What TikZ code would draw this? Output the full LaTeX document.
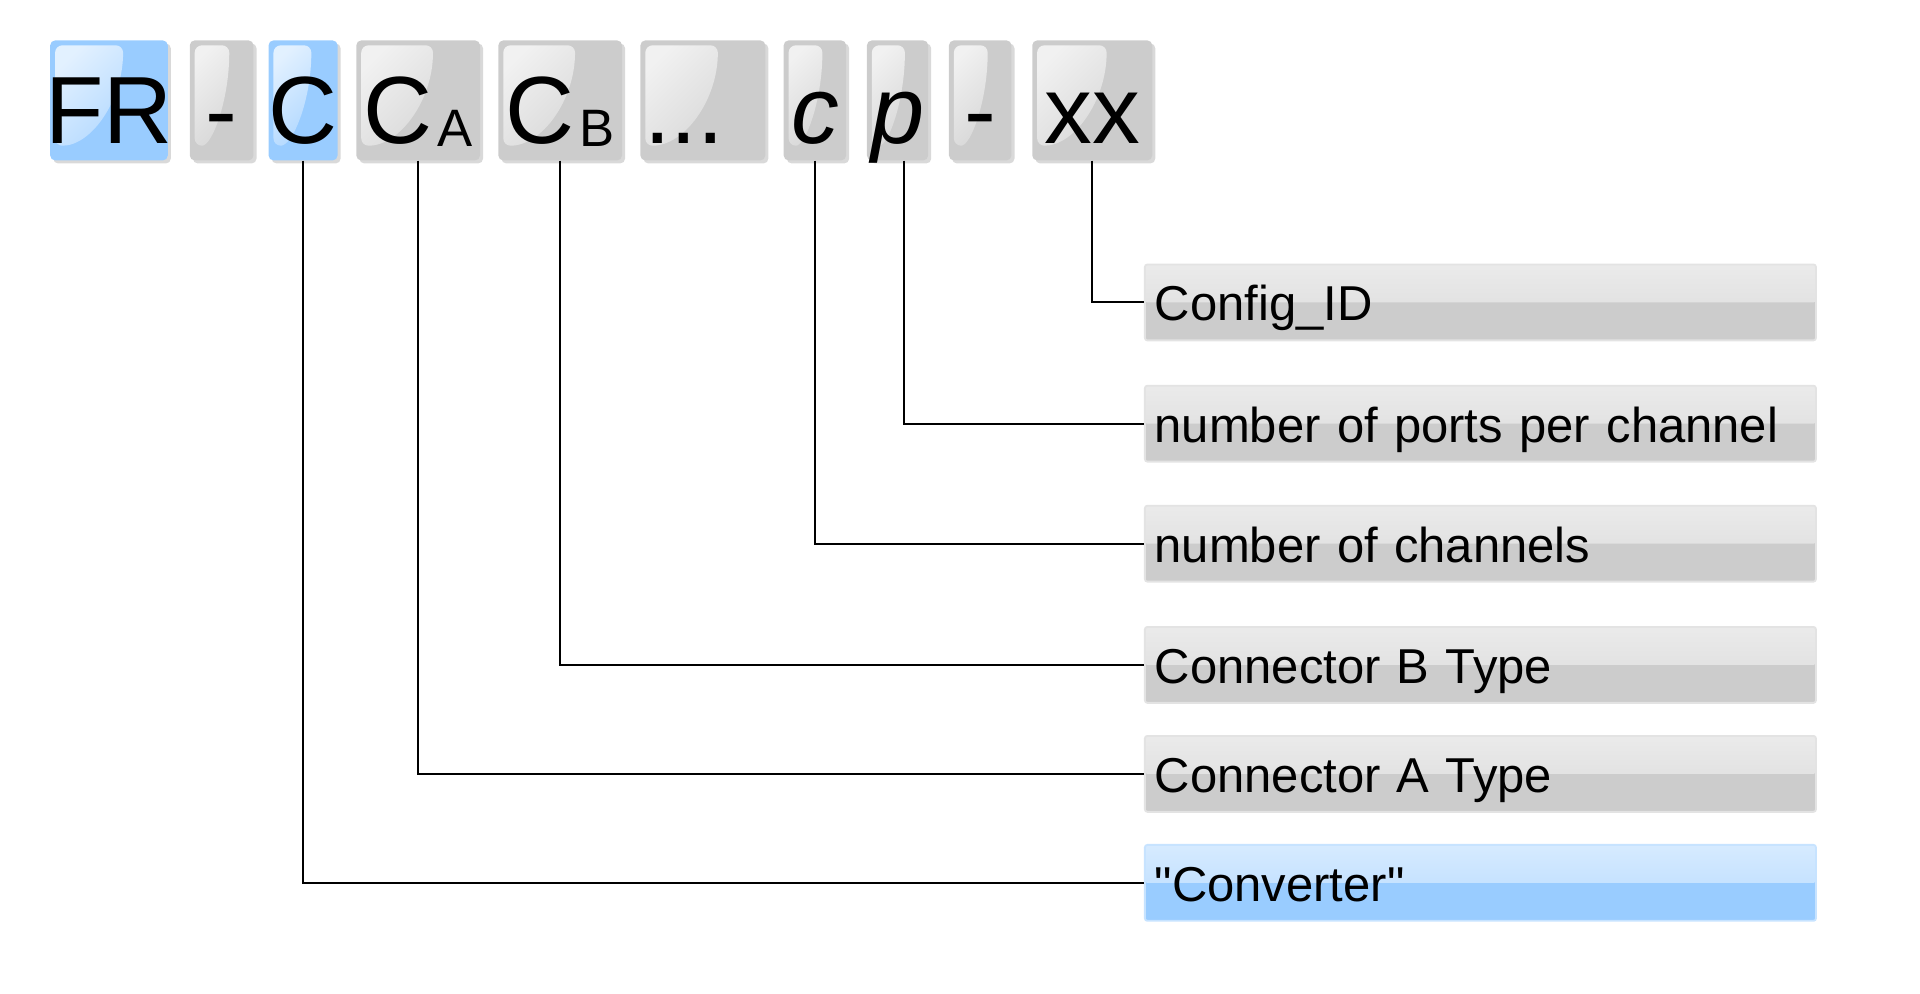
\documentclass[tikz,border=0pt]{standalone}
\usepackage{fontspec}
\setmainfont{Liberation Sans}[Ligatures=TeXOff]
\usetikzlibrary{calc,shadows}
\definecolor{keygray}{HTML}{CCCCCC}
\definecolor{keyblue}{HTML}{99CCFF}
\newcommand{\glyphfont}{\fontsize{78}{90}\selectfont}
\newcommand{\idxfont}{\fontsize{43}{50}\selectfont}
\newcommand{\tagfont}{\fontsize{40}{48}\selectfont}
\begin{document}
\begin{tikzpicture}[x=1pt, y=-1pt,
    key/.style = {rounded corners=4pt, fill=#1, minimum height=98pt, inner sep=0pt,
        text height=70pt, text depth=0pt, font=\glyphfont,
        drop shadow={shadow xshift=2.5pt, shadow yshift=-2.5pt, opacity=0.3},
        path picture={\shade[rounded corners=6pt, top color=white!72!#1, bottom color=white!10!#1, shading angle=45]
            ($(path picture bounding box.north west)+(4,4)$)
            -- ($(path picture bounding box.north west)!0.62!(path picture bounding box.north east)+(0,4)$)
            .. controls ($(path picture bounding box.west)!0.62!(path picture bounding box.east)$)
            and ($(path picture bounding box.south west)!0.35!(path picture bounding box.south east)+(0,-12)$)
            .. ($(path picture bounding box.south west)+(4,-12)$) -- cycle;}},
    tag/.style = {draw=white!45!#1, line width=1.5pt, rounded corners=2pt, fill=#1,
        minimum height=62pt, inner xsep=8pt, inner ysep=0pt, text width=532pt, align=left,
        text height=30pt, text depth=0pt, font=\tagfont,
        path picture={\shade[top color=white!60!#1, bottom color=white!28!#1]
            (path picture bounding box.north west) rectangle (path picture bounding box.east);}},
    wire/.style = {line width=1.6pt}]
    \useasboundingbox (0,0) rectangle (1568,811);

    \node[key=keyblue, minimum width=96pt] (fr) at (89,82) {\makebox[0pt]{FR}};
    \node[key=keygray, minimum width=52pt] (d1) at (181,82) {-};
    \node[key=keyblue, minimum width=51pt] (cv) at (247.5,82) {C};
    \node[key=keygray, minimum width=101pt] (ca) at (341.5,82) {C\kern4pt\raisebox{-3pt}{\idxfont A}};
    \node[key=keygray, minimum width=101pt] (cb) at (457.5,82) {C\kern4pt\raisebox{-3pt}{\idxfont B}};
    \node[key=keygray, minimum width=102pt] (dots) at (574,82) {\makebox[96pt][l]{...}};
    \node[key=keygray, minimum width=51pt] (ch) at (665.5,82) {\textit{c}};
    \node[key=keygray, minimum width=50pt] (pt) at (733,82) {\textit{p}};
    \node[key=keygray, minimum width=51pt] (d2) at (800.5,82) {-};
    \node[key=keygray, minimum width=98pt] (xx) at (892,82) {xx};

    \node[tag=keygray] (cfg) at (1209,247) {Config\_ID};
    \node[tag=keygray] (ports) at (1209,346) {number of ports per channel};
    \node[tag=keygray] (chans) at (1209,444) {number of channels};
    \node[tag=keygray] (typeb) at (1209,543) {Connector B Type};
    \node[tag=keygray] (typea) at (1209,632) {Connector A Type};
    \node[tag=keyblue] (conv) at (1209,721) {"Converter"};

    \draw[wire] (xx.south) |- (cfg.west);
    \draw[wire] ([xshift=5pt]pt.south) |- (ports.west);
    \draw[wire] (ch.south) |- (chans.west);
    \draw[wire] (cb.south) |- (typeb.west);
    \draw[wire] (ca.south) |- (typea.west);
    \draw[wire] (cv.south) |- (conv.west);
\end{tikzpicture}
\end{document}
